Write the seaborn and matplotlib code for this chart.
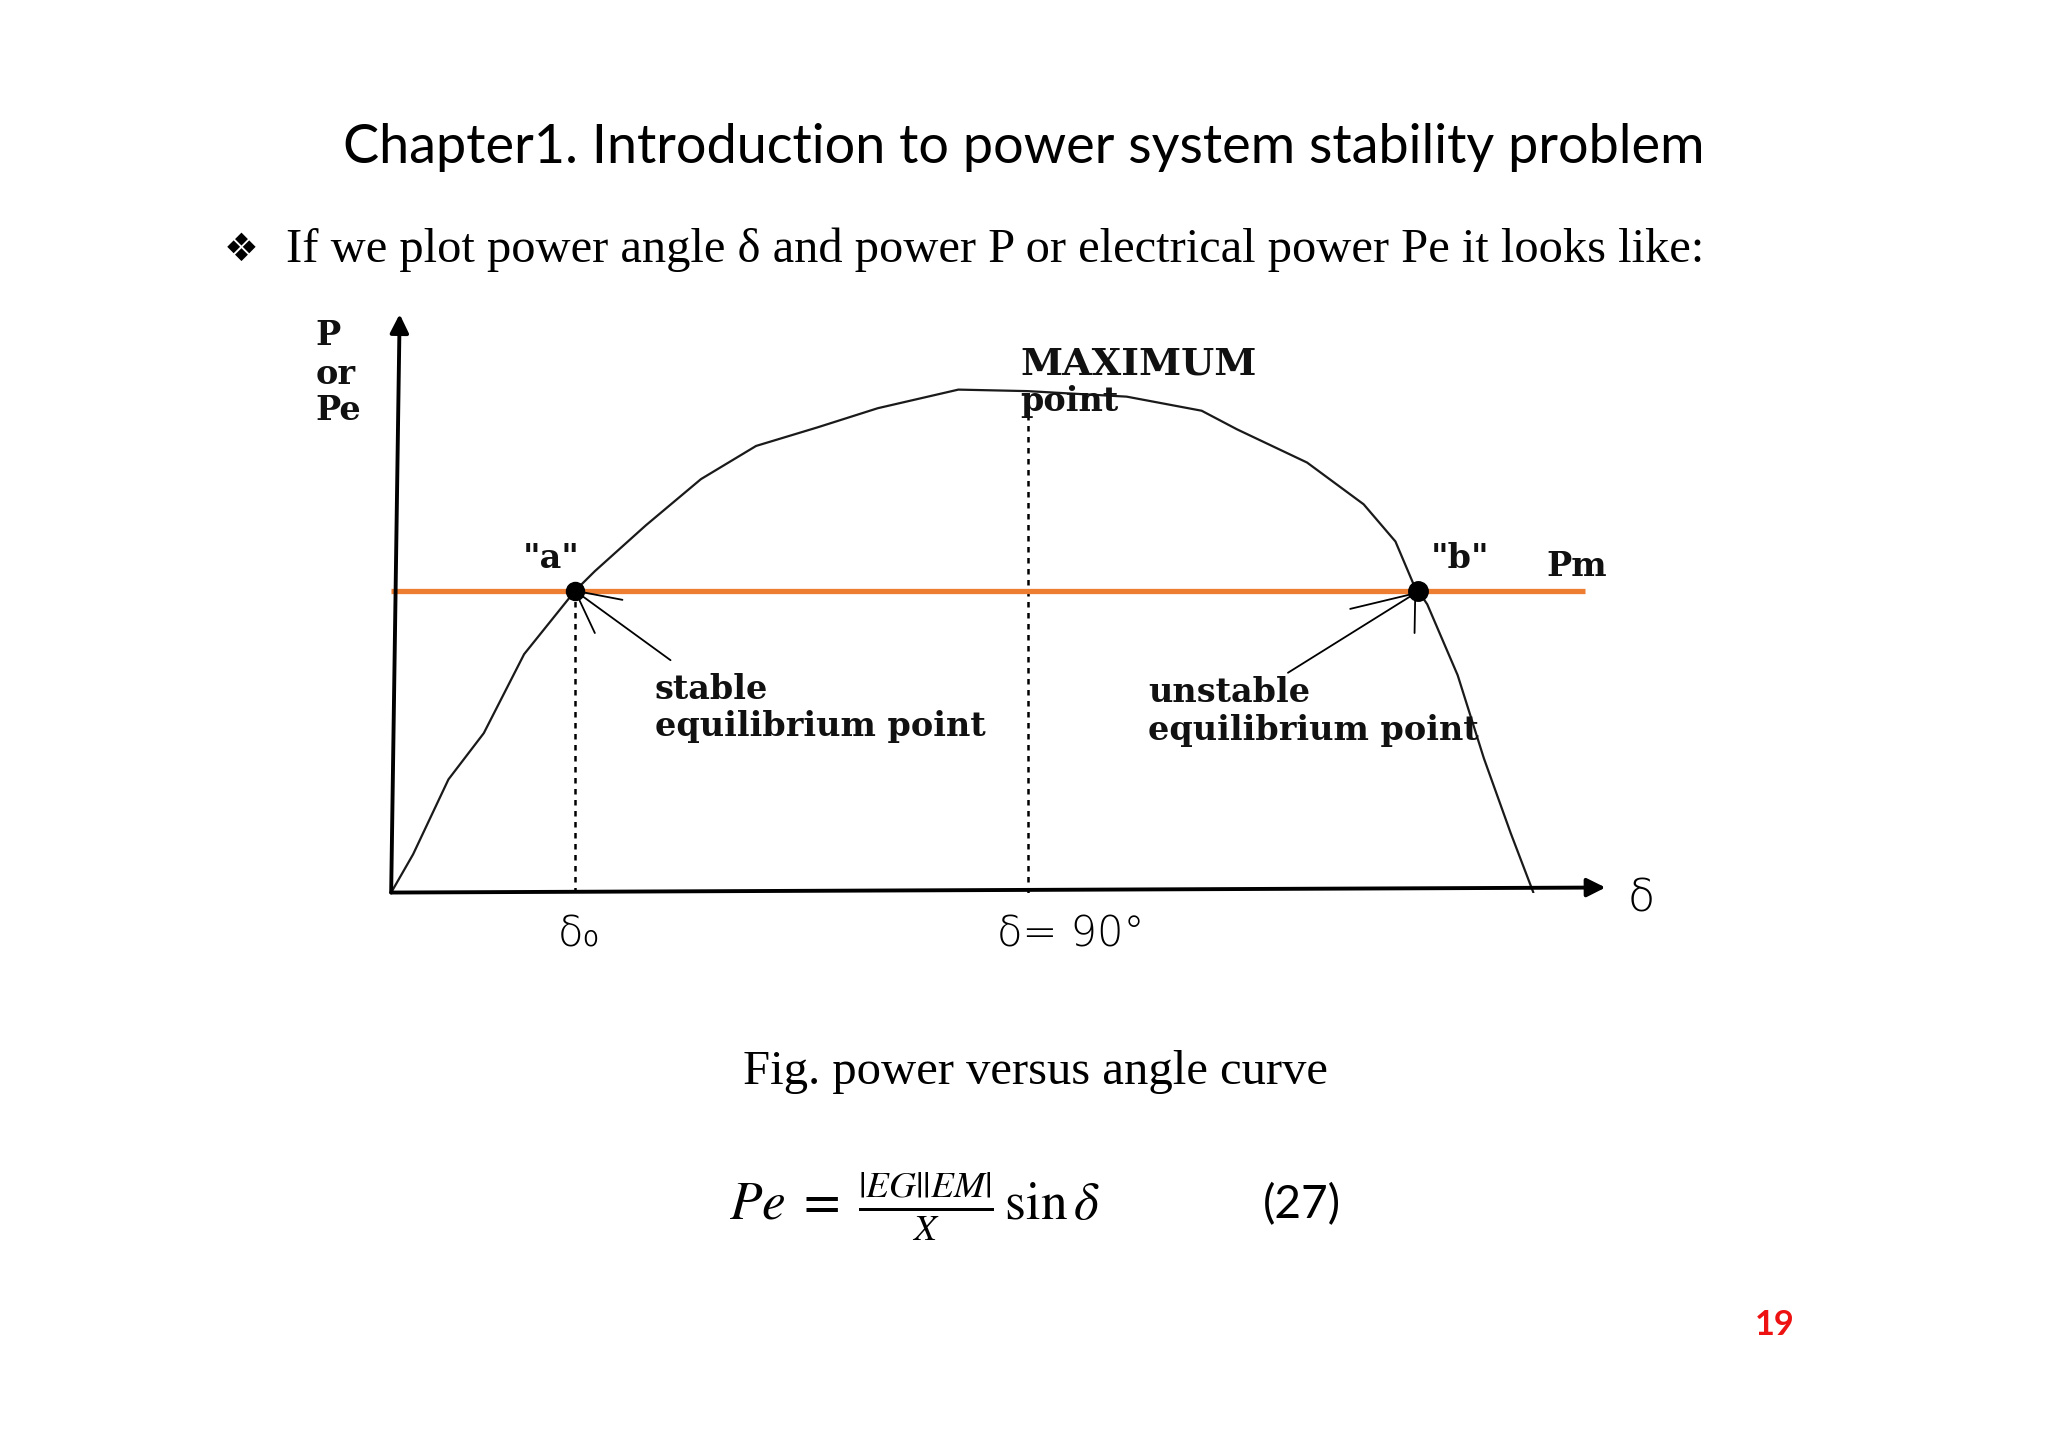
import matplotlib
matplotlib.use("Agg")
import matplotlib.pyplot as plt
import seaborn as sns
import pandas as pd

# ---------------- data ----------------
delta_deg = [0, 3.1, 8.1, 13.1, 18.8, 26.0, 28.8, 36.0, 43.8, 51.6, 60.3, 68.8,
             80.2, 90.0, 104.0, 114.6, 119.6, 129.5, 137.5, 142.0, 144.5, 146.5,
             150.8, 154.5, 158.3, 161.5]
power_pe = [0, 0.076, 0.225, 0.317, 0.474, 0.600, 0.639, 0.730, 0.822, 0.888,
            0.925, 0.963, 1.0, 0.997, 0.986, 0.958, 0.921, 0.855, 0.772, 0.698,
            0.615, 0.573, 0.432, 0.267, 0.118, 0.0]
pm_level = 0.60
pm_range = [0, 168.8]
delta_a = 26.0        # stable equilibrium point
delta_b = 145.2       # unstable equilibrium point
delta_max = 90.0      # maximum point
peak_p = 0.99
tick_labels = ["δ₀", "δ= 90°"]

title_text = "Chapter1. Introduction to power system stability problem"
bullet_text = "If we plot power angle δ and power P or electrical power Pe it looks like:"
caption_text = "Fig. power versus angle curve"
equation_text = r"$Pe\;=\;\frac{|EG||EM|}{X}\,\sin\delta$"
eq_number = "(27)"
page_number = "19"

# leader strokes (end points) around the equilibrium points
a_strokes = [(32.7, 0.582), (39.5, 0.462), (28.8, 0.516)]
b_strokes = [(135.6, 0.564), (126.8, 0.437), (144.7, 0.516)]

# ---------------- figure ----------------
sns.set_theme(style="white")
plt.rcParams["mathtext.fontset"] = "stix"
W, H = 2048, 1448
fig = plt.figure(figsize=(W / 100, H / 100), dpi=100)
fig.patch.set_facecolor("white")

ax = fig.add_axes([0.191, 0.3836, 0.6216, 0.4168])
ax.set_xlim(0, 180)
ax.set_ylim(0, 1.2)
ax.set_facecolor("none")
for s in ax.spines.values():
    s.set_visible(False)
ax.set_yticks([])
ax.set_xticks([])

curve = pd.DataFrame({"delta": delta_deg, "P": power_pe})
pm = pd.DataFrame({"delta": pm_range, "P": [pm_level, pm_level]})

# Pm line
sns.lineplot(data=pm, x="delta", y="P", ax=ax, color="#ED7D31", lw=3.8,
             solid_capstyle="butt", zorder=2)
# power-angle curve
sns.lineplot(data=curve, x="delta", y="P", ax=ax, color="#1a1a1a", lw=1.6,
             sort=False, zorder=3)
ax.set_xlabel("")
ax.set_ylabel("")

# dotted verticals
ax.plot([delta_a, delta_a], [0, pm_level], color="black", lw=1.8,
        ls=(0, (2.2, 2.2)), zorder=1)
ax.plot([delta_max, delta_max], [0, peak_p], color="black", lw=1.8,
        ls=(0, (2.2, 2.2)), zorder=1)

# axes arrows
ax.annotate("", xy=(171.7, 0.01), xytext=(0, 0),
            arrowprops=dict(arrowstyle="-|>", lw=2.8, color="black",
                            mutation_scale=28, shrinkA=0, shrinkB=0),
            annotation_clip=False, zorder=4)
ax.annotate("", xy=(1.2, 1.15), xytext=(0, 0),
            arrowprops=dict(arrowstyle="-|>", lw=2.8, color="black",
                            mutation_scale=28, shrinkA=0, shrinkB=0),
            annotation_clip=False, zorder=4)

# equilibrium blobs and leader strokes
ax.plot([delta_a], [pm_level], marker="o", color="black", ms=13, zorder=5)
ax.plot([delta_b], [pm_level], marker="o", color="black", ms=14, zorder=5)
for (x, y) in a_strokes:
    ax.plot([delta_a, x], [pm_level, y], color="black", lw=1.3, zorder=4)
for (x, y) in b_strokes:
    ax.plot([delta_b - 0.4, x], [pm_level - 0.005, y], color="black", lw=1.3, zorder=4)

# tick labels (hand-written style)
hw = dict(fontfamily="DejaVu Sans", fontweight="light", color="black",
          va="center", clip_on=False)
ax.text(delta_a + 0.5, -0.083, tick_labels[0], fontsize=30, ha="center", **hw)
t90 = ax.text(delta_max - 4.3, -0.083, tick_labels[1], fontsize=30, ha="left", **hw)
ax.text(176.7, -0.013, "δ", fontsize=32, ha="center", **hw)

# chart labels
lab_kw = dict(fontfamily="DejaVu Serif", fontweight="bold", color="#111111",
              va="center", ha="left", clip_on=False)
labs = []
labs.append(ax.text(-10.7, 1.107, "P", **lab_kw))
labs.append(ax.text(-10.7, 1.031, "or", **lab_kw))
labs.append(ax.text(-10.7, 0.958, "Pe", **lab_kw))
maxi = ax.text(89.0, 1.050, "MAXIMUM", **lab_kw)
labs.append(ax.text(89.0, 0.976, "point", **lab_kw))
labs.append(ax.text(18.6, 0.665, '"a"', **lab_kw))
labs.append(ax.text(147.0, 0.665, '"b"', **lab_kw))
labs.append(ax.text(163.3, 0.649, "Pm", **lab_kw))
labs.append(ax.text(37.3, 0.403, "stable", **lab_kw))
eq1 = ax.text(37.3, 0.330, "equilibrium point", **lab_kw)
labs.append(eq1)
labs.append(ax.text(107.0, 0.398, "unstable", **lab_kw))
labs.append(ax.text(107.0, 0.322, "equilibrium point", **lab_kw))

# page texts
title = fig.text(0.500, 0.8874, title_text, fontfamily="Lato", fontsize=40,
                 ha="center", va="baseline", color="black")
bullet = fig.text(224 / W, 0.8195, "❖", fontfamily="DejaVu Sans", fontsize=28,
                  ha="left", va="baseline", color="black")
btext = fig.text(286 / W, 0.8190, bullet_text, fontfamily="Liberation Serif",
                 fontsize=36, ha="left", va="baseline", color="black")
caption = fig.text(0.5058, 0.2516, caption_text, fontfamily="Liberation Serif",
                   fontsize=34, ha="center", va="baseline", color="black")
eq = fig.text(0.4465, 0.1665, equation_text, fontsize=34, ha="center",
              va="center", color="black")
eqn = fig.text(0.6355, 0.168, eq_number, fontfamily="Lato", fontsize=32,
               ha="center", va="center", color="black")
pg = fig.text(0.8665, 0.0851, page_number, fontfamily="Lato", fontweight="bold",
              fontsize=26, ha="center", va="center", color="#ee1111")

# fit texts to the widths measured on the reference
fig.canvas.draw()
r = fig.canvas.get_renderer()


def fit(t, target):
    w = t.get_window_extent(r).width
    t.set_fontsize(t.get_fontsize() * target / w)


fit(title, 1362)
fit(btext, 1418)
fit(caption, 586)
fit(eq, 371)
fit(eqn, 78)
fit(pg, 40)
fit(eq1, 331)
for t in labs:
    t.set_fontsize(eq1.get_fontsize())
fit(maxi, 236)

fig.savefig("out.png", dpi=100, facecolor="white")
